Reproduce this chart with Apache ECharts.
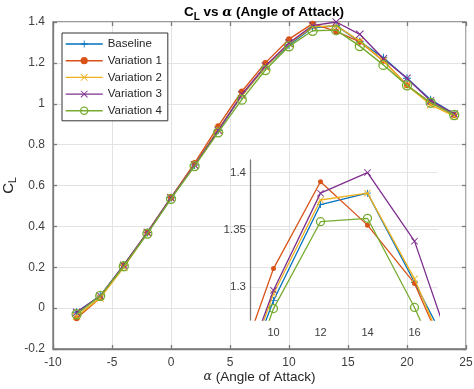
<!DOCTYPE html>
<html><head><meta charset="utf-8">
<script src="https://cdn.jsdelivr.net/npm/echarts@6/dist/echarts.min.js"></script>
<style>html,body{margin:0;padding:0;background:#fff}#c{width:474px;height:389px}</style>
</head><body><div id="c"></div>
<script>
const alpha = [-8,-6,-4,-2,0,2,4,6,8,10,12,14,16,18,20,22,24];
const seriesNames = ['Baseline','Variation 1','Variation 2','Variation 3','Variation 4'];
const baseline = [-0.02,0.06,0.21,0.37,0.54,0.70,0.87,1.04,1.18,1.288,1.372,1.382,1.304,1.225,1.125,1.02,0.95];
const variation1 = [-0.05,0.05,0.21,0.37,0.54,0.71,0.89,1.06,1.20,1.316,1.392,1.354,1.303,1.21,1.09,1.005,0.945];
const variation2 = [-0.04,0.05,0.20,0.37,0.54,0.70,0.875,1.04,1.18,1.294,1.376,1.382,1.307,1.21,1.09,0.995,0.94];
const variation3 = [-0.02,0.06,0.21,0.37,0.54,0.70,0.87,1.045,1.185,1.297,1.382,1.400,1.340,1.22,1.125,1.015,0.95];
const variation4 = [-0.03,0.06,0.205,0.365,0.535,0.695,0.86,1.02,1.165,1.281,1.357,1.360,1.282,1.19,1.09,1.005,0.945];
const mainXTicks = [-10,-5,0,5,10,15,20,25];
const mainYTicks = [-0.2,0,0.2,0.4,0.6,0.8,1,1.2,1.4];
const insetXTicks = [10,12,14,16];
const insetYTicks = [1.3,1.35,1.4];

const allData = [baseline,variation1,variation2,variation3,variation4];
const colors = ['#0072BD','#D95319','#EDB120','#7E2F8E','#77AC30'];
const plus = 'path://M-0.12,-1 H0.12 V-0.12 H1 V0.12 H0.12 V1 H-0.12 V0.12 H-1 V-0.12 H-0.12 Z';
const cross = 'path://M-1,-0.83 L-0.83,-1 L0,-0.17 L0.83,-1 L1,-0.83 L0.17,0 L1,0.83 L0.83,1 L0,0.17 L-0.83,1 L-1,0.83 L-0.17,0 Z';
const symbols = [plus,'circle',cross,cross,'circle'];
const sizes = [8,6,8,8,9];
const FONT = "'Liberation Sans', Arial, sans-serif";
const txt = '#404040';

function mk(i, xi, yi, main){
  return {
    name: seriesNames[i], type:'line', xAxisIndex:xi, yAxisIndex:yi,
    data: alpha.map((a,k)=>[a, allData[i][k]]),
    symbol: symbols[i], symbolSize: main? sizes[i] : sizes[i]-1,
    showAllSymbol:true, clip:true,
    color: colors[i],
    lineStyle:{color:colors[i], width: main?1.4:1.3, type:'solid'},
    itemStyle:{color: i===4 ? 'rgba(255,255,255,0)' : colors[i], borderColor:colors[i], borderWidth: i===4?1.3:0},
    emphasis:{disabled:true}, animation:false, z: 2+i
  };
}
const series = [];
for(let i=0;i<5;i++) series.push(mk(i,0,0,true));
for(let i=0;i<5;i++) series.push(mk(i,2,2,false));

const axisLineStyle = {color:'#7a7a7a', width:1.3};
const option = {
  animation:false,
  title:{
    text:'{b|C}{s|L}{b| vs }{g|α}{b| (Angle of Attack)}',
    left:259, textAlign:'center', top:-2,
    textStyle:{rich:{
      b:{fontFamily:FONT,fontWeight:'bold',fontSize:13.5,color:'#000'},
      g:{fontFamily:'DejaVu Serif',fontStyle:'italic',fontSize:13,color:'#000'},
      s:{fontFamily:FONT,fontWeight:'bold',fontSize:10,color:'#000',verticalAlign:'bottom',padding:[9,0,0,0]}
    }}
  },
  legend:{
    orient:'vertical', left:62, top:33,
    data: seriesNames.map((n,i)=>({name:n, itemStyle:{color: i===4?'rgba(255,255,255,0)':colors[i], borderColor:colors[i], borderWidth:i===4?1.3:0}, lineStyle:{color:colors[i], type:'solid', width:1.4}})),
    itemWidth:37, itemHeight:9, itemGap:4.7,
    backgroundColor:'#fff', borderColor:'#333', borderWidth:1, borderRadius:0,
    padding:[5,6,4,3],
    textStyle:{fontFamily:FONT,fontSize:11.5,color:'#262626'}
  },
  grid:[
    {left:53,right:8,top:22,bottom:40,show:true,borderColor:'#7a7a7a',borderWidth:1.3,backgroundColor:'transparent',outerBoundsMode:'none',containLabel:false},
    {left:250,top:160,width:188,height:160,show:false,outerBoundsMode:'none',containLabel:false}
  ],
  xAxis:[
    {type:'value',gridIndex:0,min:-10,max:25,interval:5,
     axisLine:{show:true,onZero:false,lineStyle:axisLineStyle},
     axisTick:{show:true,inside:true,length:4,lineStyle:axisLineStyle},
     axisLabel:{fontFamily:FONT,fontSize:12,color:txt,margin:8},
     splitLine:{show:true,lineStyle:{color:'#e3e3e3',width:1}},
     name:'{g|α}{t| (Angle of Attack)}', nameLocation:'middle', nameGap:21, nameMoveOverlap:false,
     nameTextStyle:{rich:{g:{fontFamily:'DejaVu Serif',fontStyle:'italic',fontSize:12.5,color:'#262626'},t:{fontFamily:FONT,fontSize:13.5,color:'#262626'}}}
    },
    {type:'value',gridIndex:0,position:'top',min:-10,max:25,interval:5,
     axisLine:{show:false,onZero:false},axisTick:{show:true,inside:true,length:4,lineStyle:axisLineStyle},
     axisLabel:{show:false},splitLine:{show:false}},
    {type:'value',gridIndex:1,min:9,max:17,
     axisLine:{show:false,onZero:false},
     axisTick:{show:false,customValues:insetXTicks},
     axisLabel:{fontFamily:FONT,fontSize:11,color:txt,margin:7,customValues:insetXTicks},
     splitLine:{show:false}}
  ],
  yAxis:[
    {type:'value',gridIndex:0,min:-0.2,max:1.4,interval:0.2,
     axisLine:{show:true,onZero:false,lineStyle:axisLineStyle},
     axisTick:{show:true,inside:true,length:4,lineStyle:axisLineStyle},
     axisLabel:{fontFamily:FONT,fontSize:12,color:txt,margin:8,
       formatter:v=>String(Math.round(v*10)/10)},
     splitLine:{show:true,lineStyle:{color:'#e3e3e3',width:1}},
     name:'{c|C}{s|L}', nameLocation:'middle', nameGap:34, nameMoveOverlap:false,
     nameTextStyle:{rich:{c:{fontFamily:FONT,fontSize:15,color:'#262626'},s:{fontFamily:FONT,fontSize:10.5,color:'#262626',verticalAlign:'bottom',padding:[10,0,0,0]}}}
    },
    {type:'value',gridIndex:0,position:'right',min:-0.2,max:1.4,interval:0.2,
     axisLine:{show:false,onZero:false},axisTick:{show:true,inside:true,length:4,lineStyle:axisLineStyle},
     axisLabel:{show:false},splitLine:{show:false}},
    {type:'value',gridIndex:1,min:1.271,max:1.411,
     axisLine:{show:true,onZero:false,lineStyle:{color:'#7a7a7a',width:1.3}},
     axisTick:{show:false,customValues:insetYTicks},
     axisLabel:{fontFamily:FONT,fontSize:11.5,color:txt,margin:4,customValues:insetYTicks,
       formatter:v=>String(Math.round(v*100)/100)},
     splitLine:{show:true,lineStyle:{color:'#e6e6e6',width:1}}}
  ],
  series: series
};
const chart = echarts.init(document.getElementById('c'),null,{renderer:'canvas'});
chart.setOption(option);
</script></body></html>
